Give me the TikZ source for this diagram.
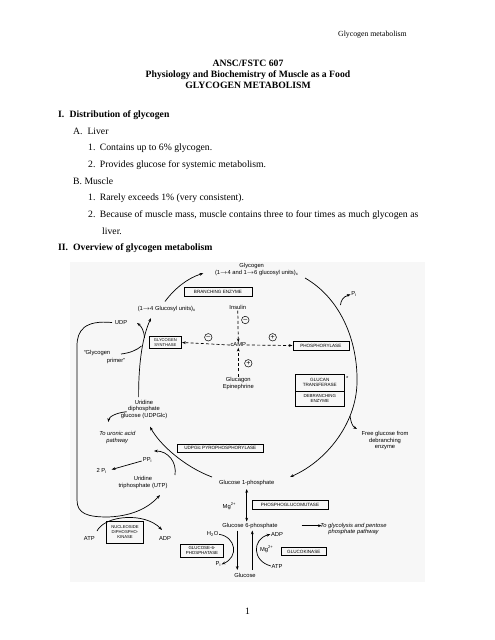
\documentclass[tikz,border=0pt]{standalone}
\usepackage{fontspec}
\setmainfont{Liberation Serif}
\newfontfamily\dsf{Liberation Sans}
\usetikzlibrary{arrows.meta}
\begin{document}
\begin{tikzpicture}[x=1pt,y=-1pt,
  body/.style={anchor=base west,inner sep=0pt,font=\fontsize{9.7}{11}\selectfont},
  bodyb/.style={anchor=base west,inner sep=0pt,font=\bfseries\fontsize{9.7}{11}\selectfont},
  ttl/.style={anchor=base,inner sep=0pt,font=\bfseries\fontsize{9.7}{11}\selectfont},
  lab/.style={font=\dsf\fontsize{5.8}{6.6}\selectfont,inner sep=0.5pt,align=center},
  labi/.style={font=\dsf\itshape\fontsize{5.8}{6.6}\selectfont,inner sep=0.5pt,align=center},
  ebox/.style={draw,line width=0.6pt,font=\dsf\fontsize{4.6}{5.2}\selectfont,inner sep=0pt,align=center},
  sgn/.style={draw,circle,line width=0.5pt,inner sep=0pt,minimum size=7.5pt,font=\dsf\fontsize{7}{7}\selectfont},
  arr/.style={-{Stealth[length=3.8pt,width=2.8pt]},line width=0.7pt},
  darr/.style={{Stealth[length=3.8pt,width=2.8pt]}-{Stealth[length=3.8pt,width=2.8pt]},line width=0.7pt},
  dsh/.style={dash pattern=on 3pt off 2.2pt,line width=0.7pt},
  ln/.style={line width=0.7pt}
]
\useasboundingbox (0,0) rectangle (495,640);
\fill[white] (0,0) rectangle (495,640);
\fill[black!3] (70,262) rectangle (425,582);

% ---------- page text ----------
\node[anchor=base east,inner sep=0pt,font=\fontsize{7.8}{9}\selectfont] (hdr) at (407,36.5) {Glycogen metabolism};
\node[ttl] (t1) at (248,66.3) {ANSC/FSTC 607};
\node[ttl] (t2) at (248,77.6) {Physiology and Biochemistry of Muscle as a Food};
\node[ttl] (t3) at (248,88.9) {GLYCOGEN METABOLISM};

\node[bodyb] (s1n) at (58,117.3) {I.};
\node[bodyb] (s1) at (69.5,117.3) {Distribution of glycogen};
\node[body] (sAn) at (73,134) {A.};
\node[body] (sA) at (87.3,134) {Liver};
\node[body] (a1n) at (88,150.7) {1.};
\node[body] (a1) at (99.7,150.7) {Contains up to 6\% glycogen.};
\node[body] (a2n) at (88,167.4) {2.};
\node[body] (a2) at (99.7,167.4) {Provides glucose for systemic metabolism.};
\node[body] (sBn) at (73,184.1) {B.};
\node[body] (sB) at (84.3,184.1) {Muscle};
\node[body] (b1n) at (88,200.8) {1.};
\node[body] (b1) at (99.7,200.8) {Rarely exceeds 1\% (very consistent).};
\node[body] (b2n) at (88,217.5) {2.};
\node[body] (b2) at (99.7,217.5) {Because of muscle mass, muscle contains three to four times as much glycogen as};
\node[body] (b2c) at (102,234.2) {liver.};
\node[bodyb] (s2n) at (58,250.9) {II.};
\node[bodyb] (s2) at (73,250.9) {Overview of glycogen metabolism};

\node[anchor=base,inner sep=0pt,font=\fontsize{9.7}{11}\selectfont] (pg) at (247.5,614.5) {1};

% ---------- diagram labels ----------
\node[lab] (gly) at (251.7,266) {Glycogen};
\node[lab] (glyu) at (256.7,273.3) {(1$\rightarrow$4 and 1$\rightarrow$6 glucosyl units)\textsubscript{x}};
\node[lab] (g14) at (166.7,309) {(1$\rightarrow$4 Glucosyl units)\textsubscript{x}};
\node[lab] (ins) at (237.8,307.7) {Insulin};
\node[lab] (udp) at (121,322.7) {UDP};
\node[lab] (pi1) at (354,294.3) {P\textsubscript{i}};
\node[lab] (camp) at (238.3,345) {cAMP};
\node[lab,align=center] (glu) at (238.3,383.3) {Glucagon\\Epinephrine};
\node[lab] (prim1) at (97,353) {“Glycogen};
\node[lab] (prim2) at (116,361) {primer”};
\node[lab] (udpg) at (144,409.4) {Uridine\\diphosphate\\glucose (UDPGlc)};
\node[labi] (uron) at (117.3,437.5) {To uronic acid\\pathway};
\node[lab] (ppi) at (147.5,460) {PP\textsubscript{i}};
\node[lab] (twopi) at (101.7,470.5) {2 P\textsubscript{i}};
\node[lab] (utp) at (143,482.7) {Uridine\\triphosphate (UTP)};
\node[lab] (free) at (385,440.5) {Free glucose from\\debranching\\enzyme};
\node[lab] (g1p) at (246.7,483.3) {Glucose 1-phosphate};
\node[lab] (mg1) at (229.3,506) {Mg\textsuperscript{2+}};
\node[lab] (g6p) at (250,526) {Glucose 6-phosphate};
\node[lab] (h2o) at (212.7,534.3) {H\textsubscript{2}O};
\node[lab] (adp2) at (277,534.3) {ADP};
\node[lab] (mg2) at (266.7,549.3) {Mg\textsuperscript{2+}};
\node[lab] (pi2) at (218.3,564.3) {P\textsubscript{i}};
\node[lab] (atp2) at (277,566) {ATP};
\node[lab] (glc) at (245,575) {Glucose};
\node[lab] (atp1) at (89.3,538) {ATP};
\node[lab] (adp1) at (165,538) {ADP};
\node[labi] (glyco) at (353.5,529) {To glycolysis and pentose\\phosphate pathway};
\node[lab] (ast) at (347.3,378) {*};

% ---------- enzyme boxes ----------
\node[ebox,minimum width=68pt,minimum height=9pt] (be) at (218,291.5) {BRANCHING ENZYME};
\node[ebox,minimum width=32.7pt,minimum height=11.6pt,font=\dsf\fontsize{4.1}{4.4}\selectfont] (gs) at (165.3,342.5) {GLYCOGEN\\SYNTHASE};
\node[ebox,minimum width=56pt,minimum height=9pt] (phos) at (320.8,345.5) {PHOSPHORYLASE};
\node[ebox,minimum width=48.3pt,minimum height=17.7pt] (gt) at (319.8,382.8) {GLUCAN\\TRANSFERASE};
\node[ebox,minimum width=48.3pt,minimum height=14.3pt,font=\dsf\fontsize{4.4}{4.9}\selectfont] (de) at (319.8,398.8) {DEBRANCHING\\ENZYME};
\node[ebox,minimum width=86pt,minimum height=8.7pt] (udpp) at (220.3,448.3) {UDPGlc PYROPHOSPHORYLASE};
\node[ebox,minimum width=76pt,minimum height=9pt] (pgm) at (290,504.5) {PHOSPHOGLUCOMUTASE};
\node[ebox,minimum width=36.6pt,minimum height=21.6pt,font=\dsf\fontsize{4.2}{5}\selectfont] (ndk) at (125,532.5) {NUCLEOSIDE\\DIPHOSPHO-\\KINASE};
\node[ebox,minimum width=42.6pt,minimum height=13.3pt,font=\dsf\fontsize{4.4}{4.9}\selectfont] (g6pase) at (202,550.7) {GLUCOSE-6-\\PHOSPHATASE};
\node[ebox,minimum width=45.7pt,minimum height=8.4pt] (gk) at (303.8,551.5) {GLUCOKINASE};

% ---------- regulation signs ----------
\node[sgn] (m1) at (208.3,337.3) {–};
\node[sgn] (m2) at (245.3,320) {–};
\node[sgn] (p1) at (248.3,363.3) {+};
\node[sgn] (p2) at (272.7,337.3) {+};

% ---------- waypoints ----------
\coordinate (arcS) at (305,278);
\coordinate (arcM) at (357,383);
\coordinate (arcE) at (290,477);
\coordinate (piS) at (340.5,305);
\coordinate (frS) at (350,416);
\coordinate (frE) at (357,429);
\coordinate (g14S) at (165,301.5);
\coordinate (g14E) at (203.3,273.3);
\coordinate (udpgT) at (138.6,397);
\coordinate (synE) at (151,318);
\coordinate (jn) at (144.5,338);
\coordinate (udpE) at (137,323);
\coordinate (prS) at (121,354);
\coordinate (prE) at (141.5,346);
\coordinate (lpS) at (112,322.5);
\coordinate (lpE) at (160,495);
\coordinate (ndkS) at (97,531);
\coordinate (ndkE) at (162,530);
\coordinate (urS) at (126.7,411.7);
\coordinate (urE) at (108.3,422);
\coordinate (g1pS) at (212,477);
\coordinate (g1pE) at (150,426.7);
\coordinate (utpS) at (175,475);
\coordinate (utpE) at (154,451);
\coordinate (ppS) at (141.7,461);
\coordinate (ppE) at (111.7,469.5);
\coordinate (mtA) at (246.7,489);
\coordinate (mtB) at (246.7,521.5);
\coordinate (dnA) at (237.3,530.5);
\coordinate (dnB) at (237.3,570);
\coordinate (upA) at (252.3,570);
\coordinate (upB) at (252.3,530.5);
\coordinate (glyS) at (301.7,525.7);

% ---------- connectors ----------
% big glycogen phosphorylase arc
\draw[arr] (arcS) .. controls (340,298) and (358,340) .. (arcM)
  .. controls (356,425) and (325,462) .. (arcE);
\draw[arr] (piS) .. controls (341,300) and (343,297) .. (pi1.west);
\draw[arr] (frS) .. controls (351,422) and (352,426) .. (frE);
% branching enzyme
\draw[arr] (g14S) .. controls (175,288) and (188,278) .. (g14E);
% glycogen synthase
\draw[arr] (udpgT) .. controls (138.5,370) and (141,340) .. (synE);
\draw[arr] (jn) .. controls (144,330) and (141,326) .. (udpE);
\draw[ln] (prS) .. controls (130,353) and (137,350) .. (prE);
% UDP -> UTP loop
\draw[arr] (lpS) .. controls (85,320) and (77,330) .. (77,346) -- (77,500)
  .. controls (77,514) and (88,517) .. (108,517)
  .. controls (135,516) and (150,506) .. (lpE);
% nucleoside diphosphokinase
\draw[arr] (ndkS) .. controls (105,515) and (145,512) .. (ndkE);
% uronic acid
\draw[arr] (urS) .. controls (115,413) and (109,417) .. (urE);
% UDPGlc pyrophosphorylase
\draw[arr] (g1pS) .. controls (185,467) and (160,445) .. (g1pE);
\draw[arr] (utpS) .. controls (177,462) and (168,451) .. (utpE);
\draw[arr] (ppS) -- (ppE);
% cAMP regulation
\draw[arr,dsh] (ins.south) -- (camp.north);
\draw[arr,dsh] (glu.north) -- (camp.south);
\draw[arr,dsh] (camp.west) -- (gs.east);
\draw[arr,dsh] (camp.east) -- (phos.west);
% lower part
\draw[darr] (mtA) -- (mtB);
\draw[arr] (dnA) -- (dnB);
\draw[arr] (upA) -- (upB);
\draw[arr] (h2o.east) .. controls (236,537) and (239,557) .. (pi2.east);
\draw[arr] (atp2.west) .. controls (252,561) and (252,539) .. (adp2.west);
\draw[arr] (glyS) -- ++(20,0);
\end{tikzpicture}
\end{document}
